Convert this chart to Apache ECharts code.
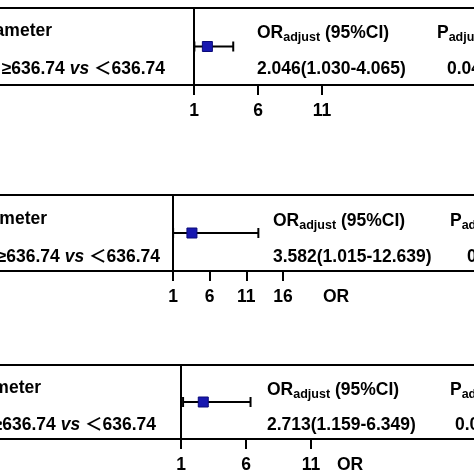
<!DOCTYPE html>
<html>
<head>
<meta charset="utf-8">
<script src="https://cdn.jsdelivr.net/npm/echarts@6/dist/echarts.min.js"></script>
<style>html,body{margin:0;padding:0;background:#fff;}#c{width:474px;height:474px;}</style>
</head>
<body>
<div id="c"></div>
<script>
// ---- data ----
var orValues = [2.046, 3.582, 2.713];
var ciLow = [1.030, 1.015, 1.159];
var ciHigh = [4.065, 12.639, 6.349];
var axisMax = [11, 16, 11];
var axisNames = ['', 'OR', 'OR'];
var paramLabel = 'Parameter';
var compareLabel = ['≥636.74 ', 'vs', ' ＜636.74'];
var pValues = ['0.046', '0.047', '0.021'];

// ---- layout (per panel) ----
var panels = [
  {top: 8, bottom: 85, left: 194, right: 322, r1: 31, r2: 69, cmpRight: 165, parRight: 52, orX: 257, pX: 437, pvX: 447, nameGap: 0},
  {top: 195, bottom: 271, left: 173, right: 283, r1: 219, r2: 257, cmpRight: 160, parRight: 47, orX: 273, pX: 450, pvX: 467, nameGap: 40},
  {top: 365, bottom: 439, left: 181, right: 311, r1: 388, r2: 425, cmpRight: 156, parRight: 41, orX: 267, pX: 450, pvX: 455, nameGap: 26}
];

var FONT = '"Liberation Sans", Arial, "Noto Sans CJK SC", sans-serif';
var FS = 17.5;

var grids = [], xAxes = [], yAxes = [], series = [], graphics = [];

panels.forEach(function (p, i) {
  grids.push({left: p.left, top: p.top, width: p.right - p.left, height: p.bottom - p.top});
  xAxes.push({
    type: 'value', gridIndex: i, min: 1, max: axisMax[i], interval: 5,
    axisLine: {show: false},
    axisTick: {show: true, length: 10, lineStyle: {color: '#000', width: 2}},
    axisLabel: {show: true, margin: 17, color: '#000', fontSize: FS, fontWeight: 'bold', fontFamily: FONT},
    splitLine: {show: false},
    name: axisNames[i], nameLocation: 'end', nameGap: p.nameGap,
    nameTextStyle: {color: '#000', fontSize: FS, fontWeight: 'bold', fontFamily: FONT, verticalAlign: 'top', padding: [17, 0, 0, 0]}
  });
  yAxes.push({
    type: 'value', gridIndex: i, min: 0, max: 2,
    axisLine: {show: true, onZero: false, lineStyle: {color: '#000', width: 2}},
    axisTick: {show: false}, axisLabel: {show: false}, splitLine: {show: false}
  });
  series.push({
    type: 'custom', xAxisIndex: i, yAxisIndex: i, clip: false,
    data: [[ciLow[i], ciHigh[i], 1]],
    renderItem: function (params, api) {
      var a = api.coord([api.value(0), api.value(2)]);
      var b = api.coord([api.value(1), api.value(2)]);
      var h = 5;
      var st = {stroke: '#000', lineWidth: 2};
      return {type: 'group', children: [
        {type: 'line', shape: {x1: a[0], y1: a[1], x2: b[0], y2: b[1]}, style: st},
        {type: 'line', shape: {x1: a[0], y1: a[1] - h, x2: a[0], y2: a[1] + h}, style: st},
        {type: 'line', shape: {x1: b[0], y1: b[1] - h, x2: b[0], y2: b[1] + h}, style: st}
      ]};
    }
  });
  series.push({
    type: 'scatter', xAxisIndex: i, yAxisIndex: i, symbol: 'rect', symbolSize: 10, z: 5,
    itemStyle: {color: '#1818b0', borderColor: '#0a0a78', borderWidth: 1, opacity: 1},
    data: [[orValues[i], 1]]
  });

  // table borders
  graphics.push({type: 'line', shape: {x1: 0, y1: p.top, x2: 474, y2: p.top}, style: {stroke: '#000', lineWidth: 2}});
  graphics.push({type: 'line', shape: {x1: 0, y1: p.bottom, x2: 474, y2: p.bottom}, style: {stroke: '#000', lineWidth: 2}});

  var base = {fill: '#000', fontSize: FS, fontWeight: 'bold', fontFamily: FONT};
  // left column
  graphics.push({type: 'text', style: Object.assign({text: paramLabel, x: p.parRight, y: p.r1, align: 'right', verticalAlign: 'middle'}, base)});
  graphics.push({type: 'text', style: {
    text: '{a|' + compareLabel[0] + '}{i|' + compareLabel[1] + '}{a|' + compareLabel[2] + '}',
    x: p.cmpRight, y: p.r2, align: 'right', verticalAlign: 'middle',
    rich: {
      a: {fill: '#000', fontSize: FS, fontWeight: 'bold', fontFamily: FONT},
      i: {fill: '#000', fontSize: FS, fontWeight: 'bold', fontStyle: 'italic', fontFamily: FONT}
    }
  }});
  // OR header
  var rich = {
    a: {fill: '#000', fontSize: FS, fontWeight: 'bold', fontFamily: FONT, lineHeight: 24},
    b: {fill: '#000', fontSize: 12.5, fontWeight: 'bold', fontFamily: FONT, lineHeight: 24, padding: [10, 0, 0, 0]}
  };
  graphics.push({type: 'text', style: {text: '{a|OR}{b|adjust}{a| (95%CI)}', x: p.orX, y: p.r1 + 2, align: 'left', verticalAlign: 'middle', rich: rich}});
  graphics.push({type: 'text', style: {text: '{a|P}{b|adjust}', x: p.pX, y: p.r1 + 2, align: 'left', verticalAlign: 'middle', rich: rich}});
  graphics.push({type: 'text', style: Object.assign({
    text: orValues[i].toFixed(3) + '(' + ciLow[i].toFixed(3) + '-' + ciHigh[i].toFixed(3) + ')',
    x: p.orX, y: p.r2, align: 'left', verticalAlign: 'middle'}, base)});
  graphics.push({type: 'text', style: Object.assign({text: pValues[i], x: p.pvX, y: p.r2, align: 'left', verticalAlign: 'middle'}, base)});
});

var chart = echarts.init(document.getElementById('c'));
chart.setOption({
  animation: false,
  backgroundColor: '#fff',
  grid: grids, xAxis: xAxes, yAxis: yAxes, series: series,
  graphic: {elements: graphics}
});
</script>
</body>
</html>
